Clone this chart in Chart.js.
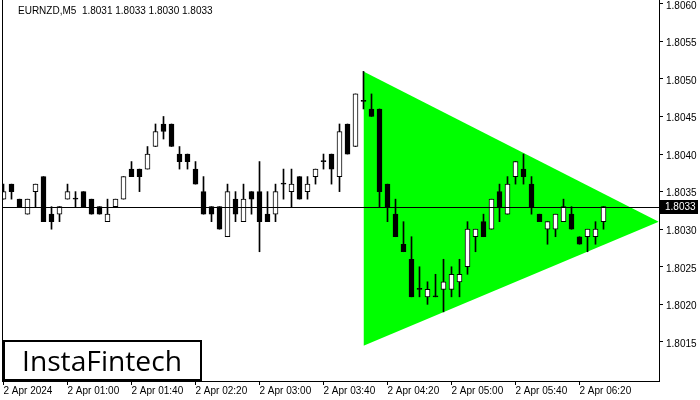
<!DOCTYPE html>
<html>
<head>
<meta charset="utf-8">
<script src="https://cdn.jsdelivr.net/npm/chart.js@4.4.1/dist/chart.umd.min.js"></script>
<style>
  html, body { margin: 0; padding: 0; background: #fff; }
  #wrap { width: 700px; height: 400px; }
</style>
</head>
<body>
<div id="wrap"><canvas id="myChart" width="700" height="400"></canvas></div>
<script>
// EURNZD M5 candles, bar index 0..75
const opens  = [1.8034,1.8036,1.8034,1.8032,1.8035,1.8037,1.8032,1.8032,1.8034,1.8034,
                1.8035,1.8034,1.8033,1.8031,1.8033,1.8034,1.8038,1.8038,1.8038,1.8041,
                1.8044,1.8044,1.8040,1.8040,1.8038,1.8035,1.8033,1.8033,1.8029,1.8034,
                1.8031,1.8035,1.8035,1.8032,1.8032,1.8036,1.8035,1.8037,1.8035,1.8037,
                1.8039,1.8040,1.8037,1.8044,1.8041,1.8047,1.8046,1.8046,1.8036,1.8032,
                1.8028,1.8026,1.8022,1.8021,1.8021,1.8022,1.8022,1.8023,1.8025,1.8029,
                1.8031,1.8030,1.8035,1.8032,1.8037,1.8038,1.8036,1.8032,1.8030,1.8030,
                1.8031,1.8032,1.8029,1.8029,1.8029,1.8031];
const highs  = [1.8036,1.8036,1.8034,1.8034,1.8036,1.8037,1.8033,1.8033,1.8036,1.8035,
                1.8035,1.8034,1.8033,1.8034,1.8034,1.8037,1.8039,1.8038,1.8041,1.8044,
                1.8045,1.8044,1.8041,1.8040,1.8039,1.8037,1.8033,1.8033,1.8036,1.8035,
                1.8036,1.8035,1.8039,1.8035,1.8036,1.8038,1.8038,1.8037,1.8037,1.8038,
                1.8040,1.8040,1.8044,1.8044,1.8048,1.8051,1.8048,1.8046,1.8036,1.8034,
                1.8031,1.8029,1.8025,1.8023,1.8024,1.8026,1.8025,1.8026,1.8031,1.8030,
                1.8032,1.8034,1.8036,1.8037,1.8039,1.8040,1.8037,1.8032,1.8031,1.8032,
                1.8034,1.8033,1.8029,1.8030,1.8031,1.8033];
const lows   = [1.8034,1.8034,1.8033,1.8032,1.8033,1.8031,1.8030,1.8031,1.8034,1.8033,
                1.8033,1.8032,1.8032,1.8031,1.8033,1.8034,1.8037,1.8035,1.8038,1.8041,
                1.8042,1.8041,1.8038,1.8038,1.8036,1.8032,1.8031,1.8030,1.8029,1.8031,
                1.8031,1.8032,1.8027,1.8031,1.8031,1.8034,1.8033,1.8034,1.8034,1.8036,
                1.8038,1.8036,1.8035,1.8040,1.8041,1.8046,1.8045,1.8033,1.8031,1.8029,
                1.8027,1.8021,1.8021,1.8020,1.8021,1.8019,1.8021,1.8021,1.8024,1.8027,
                1.8029,1.8030,1.8031,1.8032,1.8036,1.8036,1.8032,1.8031,1.8028,1.8029,
                1.8031,1.8030,1.8028,1.8027,1.8028,1.8030];
const closes = [1.8035,1.8035,1.8033,1.8034,1.8036,1.8031,1.8031,1.8033,1.8035,1.8034,
                1.8033,1.8032,1.8032,1.8032,1.8034,1.8037,1.8037,1.8037,1.8040,1.8043,
                1.8043,1.8041,1.8039,1.8039,1.8036,1.8032,1.8032,1.8030,1.8035,1.8032,
                1.8034,1.8034,1.8031,1.8031,1.8035,1.8036,1.8036,1.8034,1.8036,1.8038,
                1.8039,1.8038,1.8043,1.8040,1.8048,1.8047,1.8045,1.8035,1.8033,1.8029,
                1.8027,1.8021,1.8022,1.8022,1.8021,1.8023,1.8024,1.8024,1.8030,1.8030,
                1.8029,1.8034,1.8033,1.8036,1.8039,1.8037,1.8033,1.8031,1.8031,1.8032,
                1.8033,1.8030,1.8028,1.8030,1.8030,1.8033];

// triangle pattern: left edge at bar 45, apex at the right border
const triX      = [45, 81.9];
const triTop    = [1.8051, 1.8031];
const triBottom = [1.80145, 1.8031];

const xTickIdx = [0, 8, 16, 24, 32, 40, 48, 56, 64, 72];
const xTickLabels = ['2 Apr 2024', '2 Apr 01:00', '2 Apr 01:40', '2 Apr 02:20', '2 Apr 03:00',
                     '2 Apr 03:40', '2 Apr 04:20', '2 Apr 05:00', '2 Apr 05:40', '2 Apr 06:20'];
const yTicks = [1.8015, 1.8020, 1.8025, 1.8030, 1.8035, 1.8040, 1.8045, 1.8050, 1.8055, 1.8060];

const symbol = 'EURNZD,M5';
const FONT = 'Liberation Sans';

document.addEventListener('DOMContentLoaded', () => {
    const last = closes.length - 1;
    const wicks = lows.map((l, i) => ({ x: i, y: [l, highs[i]] }));
    const bodies = opens.map((o, i) => ({ x: i, y: [o, closes[i]] }));
    const bodyColors = opens.map((o, i) => closes[i] > o ? '#ffffff' : '#000000');

    const overlay = {
        id: 'overlay',
        afterDatasetsDraw(chart) {
            const { ctx, chartArea: a, scales } = chart;
            const py = Math.round(scales.y.getPixelForValue(closes[last])) + 0.5;
            ctx.save();
            ctx.strokeStyle = '#000';
            ctx.lineWidth = 1;
            ctx.beginPath();
            ctx.moveTo(a.left, py);
            ctx.lineTo(a.right, py);
            ctx.stroke();
            // frame
            ctx.strokeRect(a.left - 0.5, a.top - 0.5, a.right - a.left + 1, a.bottom - a.top + 1);
            ctx.restore();
        },
        afterDraw(chart) {
            const { ctx, chartArea: a, scales } = chart;
            ctx.save();
            // header
            ctx.fillStyle = '#000';
            ctx.font = '10px "' + FONT + '"';
            ctx.textBaseline = 'middle';
            ctx.textAlign = 'left';
            const hdr = symbol + '  ' + [opens[last], highs[last], lows[last], closes[last]]
                .map(v => v.toFixed(4)).join(' ');
            ctx.fillText(hdr, 18, 11);
            // current price box
            const py = Math.round(scales.y.getPixelForValue(closes[last]));
            ctx.fillRect(a.right + 1, py - 7, 38, 14);
            ctx.fillStyle = '#fff';
            ctx.fillText(closes[last].toFixed(4), a.right + 6, py);
            // logo
            ctx.fillStyle = '#fff';
            ctx.fillRect(4, 341, 197, 39);
            ctx.strokeStyle = '#000';
            ctx.lineWidth = 2;
            ctx.strokeRect(4, 341, 197, 39);
            ctx.fillStyle = '#000';
            ctx.font = '28px "Open Sans"';
            ctx.textBaseline = 'alphabetic';
            const w = ctx.measureText('InstaFintech').width;
            ctx.save();
            ctx.translate(22, 371);
            ctx.scale(160 / w, 1);
            ctx.fillText('InstaFintech', 0, 0);
            ctx.restore();
            ctx.restore();
        }
    };

    const ctx = document.getElementById('myChart');
    new Chart(ctx, {
        type: 'bar',
        data: {
            datasets: [
                {
                    type: 'bar',
                    data: bodies,
                    backgroundColor: bodyColors,
                    borderColor: '#000',
                    borderWidth: 1,
                    borderSkipped: false,
                    barThickness: 5,
                    minBarLength: 1,
                    grouped: false,
                    order: 1
                }, {
                    type: 'bar',
                    data: wicks,
                    backgroundColor: '#000',
                    borderWidth: 0,
                    barThickness: 1,
                    grouped: false,
                    order: 2
                }, {
                    type: 'line',
                    data: triX.map((x, i) => ({ x: x, y: triTop[i] })),
                    borderWidth: 0,
                    pointRadius: 0,
                    fill: false,
                    order: 3
                }, {
                    type: 'line',
                    data: triX.map((x, i) => ({ x: x, y: triBottom[i] })),
                    borderWidth: 0,
                    pointRadius: 0,
                    backgroundColor: '#00ff00',
                    fill: '-1',
                    order: 4
                }
            ]
        },
        options: {
            responsive: false,
            animation: false,
            layout: { padding: { left: 3, top: 0, right: 0, bottom: 0 } },
            plugins: { legend: { display: false }, tooltip: { enabled: false } },
            scales: {
                x: {
                    type: 'linear',
                    offset: false,
                    min: -0.0625,
                    max: 81.9375,
                    grid: { display: true, drawOnChartArea: false, offset: false, color: '#000', tickLength: 4 },
                    border: { display: false },
                    afterBuildTicks: s => { s.ticks = xTickIdx.map(v => ({ value: v })); },
                    afterFit: s => { s.height = 19; s.paddingLeft = 0; s.paddingRight = 0; },
                    ticks: {
                        align: 'start',
                        padding: 0,
                        maxRotation: 0,
                        autoSkip: false,
                        color: '#000',
                        font: { family: FONT, size: 10 },
                        callback: v => xTickLabels[xTickIdx.indexOf(v)]
                    }
                },
                y: {
                    position: 'right',
                    min: 1.80098,
                    max: 1.80605,
                    grid: { display: true, drawOnChartArea: false, color: '#000', tickLength: 4 },
                    border: { display: false },
                    afterBuildTicks: s => { s.ticks = yTicks.map(v => ({ value: v })); },
                    afterFit: s => { s.width = 41; s.paddingTop = 0; s.paddingBottom = 0; },
                    ticks: {
                        padding: 3,
                        labelOffset: 2,
                        color: '#000',
                        font: { family: FONT, size: 10 },
                        callback: v => v.toFixed(4)
                    }
                }
            }
        },
        plugins: [overlay]
    });
});
</script>
</body>
</html>
